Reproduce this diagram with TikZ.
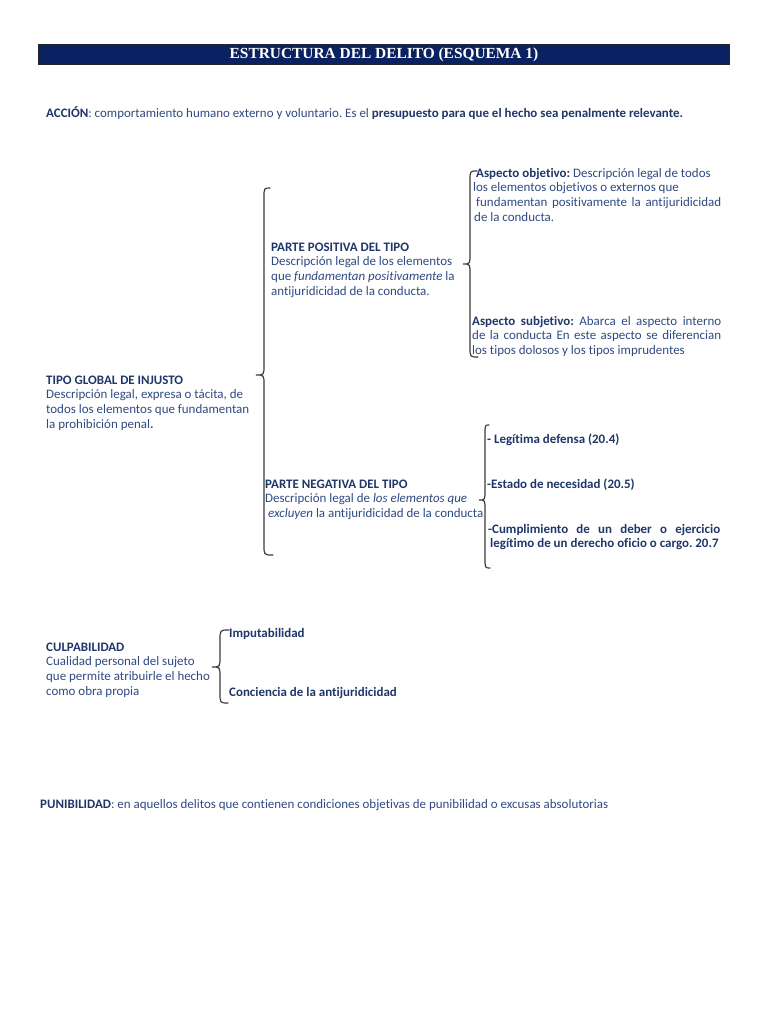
\documentclass[tikz,border=0pt]{standalone}
\usepackage{fontspec}
\setmainfont{Carlito}[Ligatures=NoCommon]
\newfontfamily\titlefont{Liberation Serif}
\definecolor{navy}{HTML}{0B2262}
\definecolor{hdc}{HTML}{1E3668}
\definecolor{bdc}{HTML}{2F4A82}
\definecolor{bracec}{HTML}{3A3A3A}
\newcommand\bodyfont{\fontsize{12.95}{14.8}\selectfont\frenchspacing}
\newcommand\drawbrace[7]{%
  \draw[bracestyle] (#1,#2) .. controls (#3,#2) .. (#3,#2+10) -- (#3,#5-10)
    .. controls (#3,#5) .. (#4,#5) .. controls (#3,#5) .. (#3,#5+10)
    -- (#3,#7-10) .. controls (#3,#7) .. (#6,#7);}
\begin{document}
\begin{tikzpicture}[x=1pt,y=-1pt,
  txt/.style={anchor=north west,inner sep=0pt,align=left,font=\bodyfont,text=bdc},
  jtxt/.style={txt,align=justify},
  bracestyle/.style={draw=bracec,line width=1.2pt,line cap=round}]
\path[use as bounding box] (0,0) rectangle (768,1024);
% title
\node[draw=black!85,line width=1pt,fill=navy,minimum width=691pt,minimum height=20pt,inner sep=0pt,anchor=north west] (titlebox) at (38,44) {};
\node[text=white,font=\titlefont\bfseries\fontsize{15.4}{17}\selectfont,inner sep=0pt] (title) at ([yshift=-0.5pt]titlebox.center) {ESTRUCTURA DEL DELITO (ESQUEMA 1)};
% accion
\node[txt] (accion) at (46,106.6) {\strut\textcolor{hdc}{\bfseries ACCIÓN}: comportamiento humano externo y voluntario. Es el \textcolor{hdc}{\bfseries presupuesto para que el hecho sea penalmente relevante.}};
% tipo global
\node[txt] (tipo) at (46,373.6) {\strut\textcolor{hdc}{\bfseries TIPO GLOBAL DE INJUSTO}\\Descripción legal, expresa o tácita, de\\todos los elementos que fundamentan\\la prohibición penal\textbf{.}};
% parte positiva
\node[txt] (pos) at (271,240.6) {\strut\textcolor{hdc}{\bfseries PARTE POSITIVA DEL TIPO}\\Descripción legal de los elementos\\que \textit{fundamentan positivamente} la\\antijuridicidad de la conducta.};
% aspecto objetivo
\node[jtxt,text width=248pt] (obj) at (473,166.6) {\strut\hspace{3pt}\textcolor{hdc}{\bfseries Aspecto objetivo:} Descripción legal de todos\newline los elementos objetivos o externos que\newline \hspace*{3pt}fundamentan positivamente la antijuridicidad\linebreak \hspace*{1pt}de la conducta.};
% aspecto subjetivo
\node[jtxt,text width=249pt] (subj) at (472,314.6) {\strut\textcolor{hdc}{\bfseries Aspecto subjetivo:} Abarca el aspecto interno\linebreak de la conducta En este aspecto se diferencian\linebreak los tipos dolosos y los tipos imprudentes};
% parte negativa
\node[txt] (neg) at (265,477.6) {\strut\textcolor{hdc}{\bfseries PARTE NEGATIVA DEL TIPO}\\Descripción legal de \textit{los elementos que}\\\hspace*{3pt}\textit{excluyen} la antijuridicidad de la conducta};
% items
\node[txt,text=hdc,font=\bodyfont\bfseries] (leg) at (487,432.6) {\strut- Legítima defensa (20.4)};
\node[txt,text=hdc,font=\bodyfont\bfseries] (est) at (487,477.6) {\strut-Estado de necesidad (20.5)};
\node[jtxt,text=hdc,font=\bodyfont\bfseries,text width=232pt] (cump) at (488,522.6) {\strut-Cumplimiento de un deber o ejercicio\linebreak \hspace*{2pt}legítimo de un derecho oficio o cargo. 20.7};
% culpabilidad
\node[txt] (culp) at (46,640.6) {\strut\textcolor{hdc}{\bfseries CULPABILIDAD}\\Cualidad personal del sujeto\\que permite atribuirle el hecho\\como obra propia};
\node[txt,text=hdc,font=\bodyfont\bfseries] (imp) at (229,626.6) {\strut Imputabilidad};
\node[txt,text=hdc,font=\bodyfont\bfseries] (conc) at (229,685.6) {\strut Conciencia de la antijuridicidad};
% punibilidad
\node[txt] (pun) at (40,797.6) {\strut\textcolor{hdc}{\bfseries PUNIBILIDAD}: en aquellos delitos que contienen condiciones objetivas de punibilidad o excusas absolutorias};
% braces
\drawbrace{270}{188}{264}{256}{375}{273}{555}
\drawbrace{477}{171}{470}{463}{264}{478}{357}
\drawbrace{489}{425}{485}{479}{500}{490}{568}
\drawbrace{229}{630}{220}{212}{667}{228}{703}
\end{tikzpicture}
\end{document}
